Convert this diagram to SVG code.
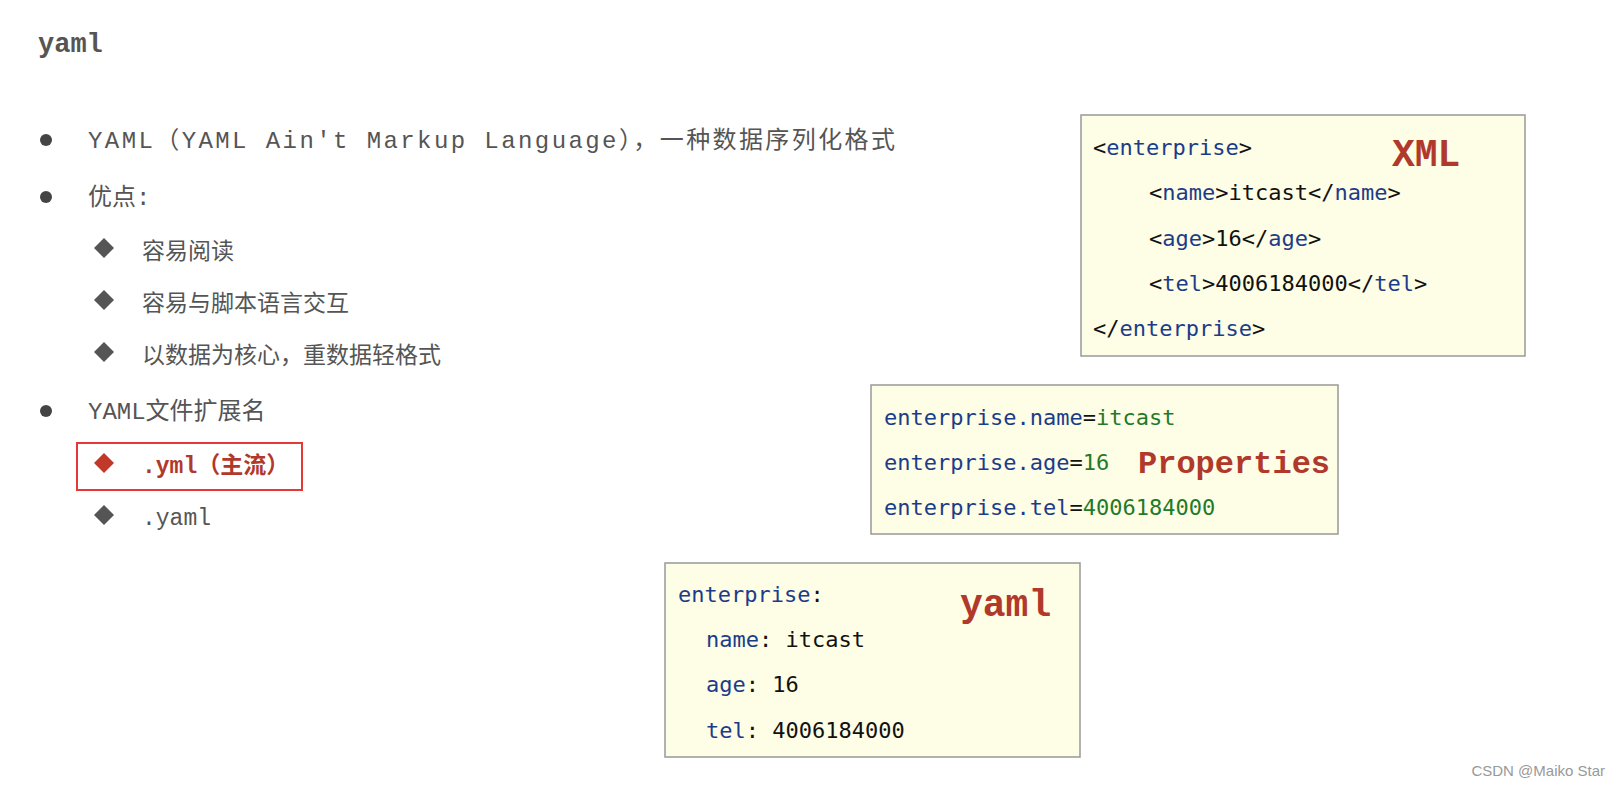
<svg xmlns="http://www.w3.org/2000/svg" width="1618" height="805" viewBox="0 0 1618 805">
<style>
.m{font-family:"Liberation Mono","Noto Sans CJK SC",monospace}
.b{fill:#555;font-size:24px}
.s{fill:#555;font-size:23px}
.c{font-family:"DejaVu Sans Mono","Liberation Mono",monospace;font-size:22px}
.t{fill:#1b3c8a}.g{fill:#1f7a2a}.k{fill:#111}
.r{fill:#b0392b;font-weight:bold}
.box{fill:#fefde5;stroke:#999;stroke-width:1.5}
</style>
<rect width="1618" height="805" fill="#fff"/>
<text x="38" y="52" class="m" font-size="27" font-weight="bold" fill="#555">yaml</text>
<g id="bullets">
<circle cx="46" cy="140" r="6" fill="#444"/><circle cx="46" cy="197" r="6" fill="#444"/><circle cx="46" cy="411" r="6" fill="#444"/>
<text x="88" y="148" class="m b" textLength="807">YAML（YAML Ain't Markup Language），一种数据序列化格式</text>
<text x="88" y="205" class="m b">优点:</text>
<text x="88" y="419" class="m b">YAML文件扩展名</text>
<g fill="#555">
<path d="M104 238 l10 10 -10 10 -10 -10z"/><path d="M104 290 l10 10 -10 10 -10 -10z"/><path d="M104 342 l10 10 -10 10 -10 -10z"/><path d="M104 505 l10 10 -10 10 -10 -10z"/>
</g>
<path d="M104 453 l10 10 -10 10 -10 -10z" fill="#c0392b"/>
<text x="142" y="259" class="m s">容易阅读</text>
<text x="142" y="311" class="m s">容易与脚本语言交互</text>
<text x="142" y="363" class="m s">以数据为核心，重数据轻格式</text>
<text x="142" y="473" class="m s r" fill="#b0392b">.yml（主流）</text>
<text x="142" y="525" class="m s">.yaml</text>
<rect x="77" y="443" width="225" height="47" fill="none" stroke="#e53935" stroke-width="2"/>
</g>
<g id="xml">
<rect x="1081" y="115" width="444" height="241" class="box"/>
<text class="c" x="1093" y="155"><tspan class="k">&lt;</tspan><tspan class="t">enterprise</tspan><tspan class="k">&gt;</tspan></text>
<text class="c" x="1149" y="200"><tspan class="k">&lt;</tspan><tspan class="t">name</tspan><tspan class="k">&gt;itcast&lt;/</tspan><tspan class="t">name</tspan><tspan class="k">&gt;</tspan></text>
<text class="c" x="1149" y="246"><tspan class="k">&lt;</tspan><tspan class="t">age</tspan><tspan class="k">&gt;16&lt;/</tspan><tspan class="t">age</tspan><tspan class="k">&gt;</tspan></text>
<text class="c" x="1149" y="291"><tspan class="k">&lt;</tspan><tspan class="t">tel</tspan><tspan class="k">&gt;4006184000&lt;/</tspan><tspan class="t">tel</tspan><tspan class="k">&gt;</tspan></text>
<text class="c" x="1093" y="336"><tspan class="k">&lt;/</tspan><tspan class="t">enterprise</tspan><tspan class="k">&gt;</tspan></text>
<text x="1392" y="166" class="m r" font-size="38">XML</text>
</g>
<g id="properties">
<rect x="871" y="385" width="467" height="149" class="box"/>
<text class="c" x="884" y="425"><tspan class="t">enterprise.name</tspan><tspan class="k">=</tspan><tspan class="g">itcast</tspan></text>
<text class="c" x="884" y="470"><tspan class="t">enterprise.age</tspan><tspan class="k">=</tspan><tspan class="g">16</tspan></text>
<text class="c" x="884" y="515"><tspan class="t">enterprise.tel</tspan><tspan class="k">=</tspan><tspan class="g">4006184000</tspan></text>
<text x="1138" y="473" class="m r" font-size="32">Properties</text>
</g>
<g id="yaml">
<rect x="665" y="563" width="415" height="194" class="box"/>
<text class="c" x="678" y="602"><tspan class="t">enterprise</tspan><tspan class="k">:</tspan></text>
<text class="c" x="706" y="647"><tspan class="t">name</tspan><tspan class="k">: itcast</tspan></text>
<text class="c" x="706" y="692"><tspan class="t">age</tspan><tspan class="k">: 16</tspan></text>
<text class="c" x="706" y="738"><tspan class="t">tel</tspan><tspan class="k">: 4006184000</tspan></text>
<text x="960" y="616" class="m r" font-size="38">yaml</text>
</g>
<g id="connectors"/>
<text x="1605" y="776" text-anchor="end" font-family="Liberation Sans,sans-serif" font-size="15" fill="#999">CSDN @Maiko Star</text>
</svg>
